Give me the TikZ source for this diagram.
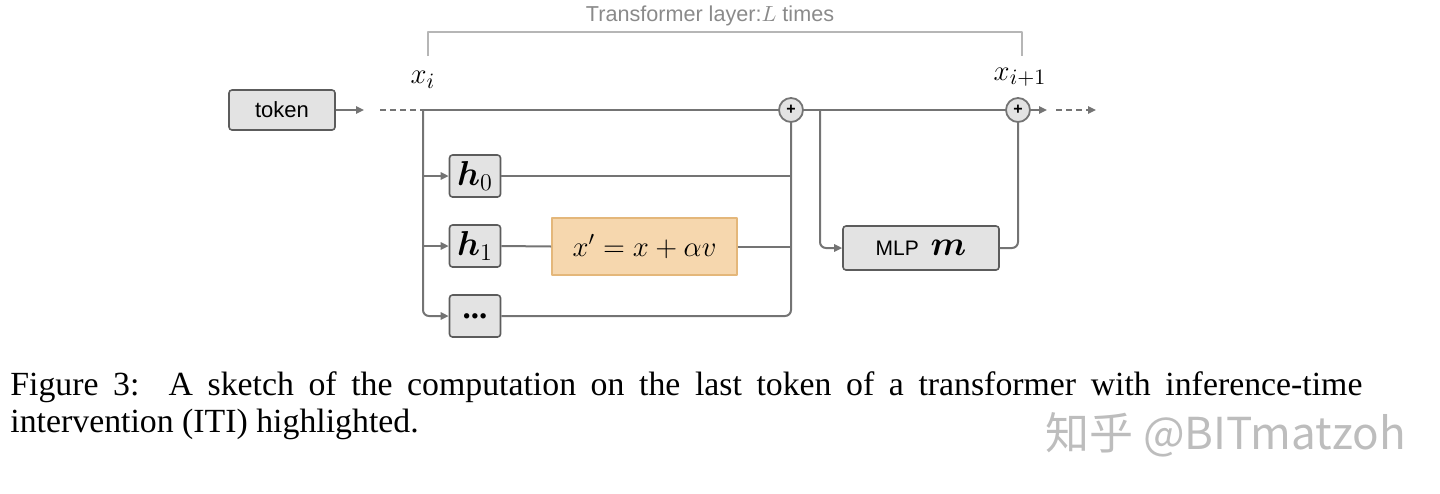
\documentclass[tikz,border=0pt]{standalone}
\usepackage{amsmath,amssymb,bm}
\usepackage[no-math]{fontspec}
\setmainfont{Liberation Serif}
\setsansfont{Liberation Sans}
\newfontfamily\cjkfont{Noto Sans CJK SC}
\usetikzlibrary{arrows.meta}
\definecolor{Wline}{HTML}{747474}
\definecolor{Bfill}{HTML}{E3E3E3}
\definecolor{Bline}{HTML}{5C5C5C}
\definecolor{Ifill}{HTML}{F6D7AE}
\definecolor{Iline}{HTML}{E4B77A}
\definecolor{Gtext}{HTML}{8A8A8A}
\definecolor{Gbrk}{HTML}{B6B6B6}
\definecolor{Wmark}{HTML}{BDBDBD}

\begin{document}
\begin{tikzpicture}[x=0.5pt,y=-0.5pt,line join=round,
  wire/.style={Wline,line width=1pt},
  tip/.style={-{Triangle[length=4pt,width=3.6pt]}},
  blk/.style={draw=Bline,fill=Bfill,line width=0.8pt,rounded corners=1.5pt,inner sep=0pt},
  sumnode/.style={circle,draw=Wline,fill=Bfill,line width=0.9pt,minimum size=12pt,
    inner sep=0pt,font=\sffamily\bfseries\fontsize{8}{8}\selectfont},
  lbl/.style={inner sep=0pt}]
\useasboundingbox (0,0) rectangle (1440,493);
\def\ymain{110}
\def\xsplit{423}
\def\xsplitB{820}

% ---- layer bracket ----
\draw[Gbrk,line width=0.8pt] (428,56) -- (428,32) -- (1022,32) -- (1022,56);
\node[lbl,text=Gtext,font=\sffamily\fontsize{10.8}{10.8}\selectfont] (layer) at (710,16)
  {Transformer layer:$L$ times};

% ---- blocks ----
\node[blk,minimum width=53pt,minimum height=20pt,font=\sffamily\fontsize{11}{11}\selectfont]
  (token) at (282,110) {token};
\foreach \n/\y/\t in {h0/176/{$\bm{h}_0$}, h1/246/{$\bm{h}_1$}, hdots/316/{\textbf{...}}}{
  \node[blk,minimum width=25.5pt,minimum height=21pt,font=\fontsize{16.5}{16.5}\selectfont]
    (\n) at (475,\y) {\t};}
\node[draw=Iline,fill=Ifill,line width=0.8pt,minimum width=92.5pt,minimum height=28.5pt,
  inner sep=0pt,font=\fontsize{14}{14}\selectfont] (iti) at (644.5,246.5) {$x' = x + \alpha v$};
\node[blk,minimum width=78pt,minimum height=22pt,font=\sffamily\fontsize{10.5}{10.5}\selectfont]
  (mlp) at (921,248) {MLP\ \ {\fontsize{16}{16}\selectfont$\bm{m}$}};
\node[sumnode] (plusA) at (791,\ymain) {+};
\node[sumnode] (plusB) at (1018,\ymain) {+};

% ---- residual stream ----
\coordinate (inA) at (364,\ymain);
\coordinate (dashA) at (380,\ymain);
\coordinate (split) at (\xsplit,\ymain);
\coordinate (splitB) at (\xsplitB,\ymain);
\coordinate (outA) at (1047,\ymain);
\coordinate (dashB) at (1056,\ymain);
\coordinate (outB) at (1096,\ymain);
\draw[wire,tip] (token.east) -- (inA);
\draw[wire,dashed,dash pattern=on 3pt off 2pt] (dashA) -- (split);
\draw[wire] (split) -- (plusA.west);
\draw[wire] (plusA.east) -- (plusB.west);
\draw[wire,tip] (plusB.east) -- (outA);
\draw[wire,tip,dash pattern=on 3pt off 2pt] (dashB) -- (outB);

% ---- attention heads ----
\draw[wire,tip,rounded corners=3pt] (split) |- (hdots.west);
\foreach \n in {h0,h1}{
  \draw[wire,tip] (split |- \n.west) -- (\n.west);}
\draw[wire] (h0.east) -- (plusA |- h0.east);
\draw[wire] (h1.east) -- (iti.west);
\draw[wire] (iti.east) -- (plusA |- iti.east);
\draw[wire,rounded corners=3pt] (hdots.east) -| (plusA.south);

% ---- MLP branch ----
\draw[wire,tip,rounded corners=3pt] (splitB) |- (mlp.west);
\draw[wire,rounded corners=3pt] (mlp.east) -| (plusB.south);

% ---- labels ----
\node[lbl,font=\fontsize{15}{15}\selectfont] (xi) at (423,80) {$x_i$};
\node[lbl,font=\fontsize{15}{15}\selectfont] (xnext) at (1020,77) {$x_{i+1}$};

% ---- caption ----
\node[lbl,anchor=base west,font=\fontsize{16.9}{18.5}\selectfont] (capA) at (10,395)
  {\makebox[676pt][s]{Figure 3:\ \ A sketch of the computation on the last token of a transformer with inference-time}};
\node[lbl,anchor=base west,font=\fontsize{16.9}{18.5}\selectfont] (capB) at (10,432)
  {intervention (ITI) highlighted.};
\node[lbl,anchor=base west,text=Wmark,font=\cjkfont\fontsize{22}{22}\selectfont] (mark) at (1045,449)
  {知乎 @BITmatzoh};
\end{tikzpicture}
\end{document}
